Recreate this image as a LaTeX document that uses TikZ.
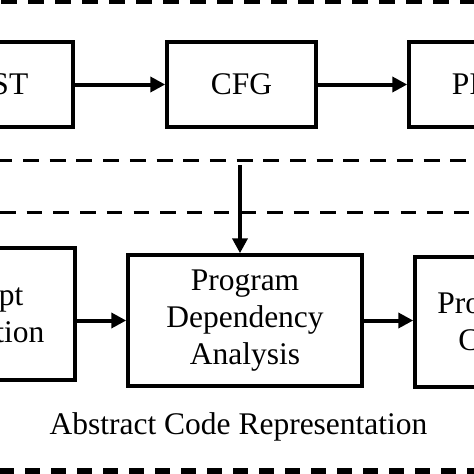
\documentclass[tikz,border=0pt]{standalone}
\usepackage{fontspec}
\setmainfont{Liberation Serif}
\usetikzlibrary{arrows.meta}
\begin{document}
\begin{tikzpicture}[x=1pt,y=-1pt,
  box/.style={draw=black, line width=3.5pt, rectangle, inner sep=0pt, align=center,
    font=\fontsize{31.5}{37}\selectfont},
  conn/.style={line width=4pt, -{Triangle[length=15pt,width=15pt]}},
  thindash/.style={line width=3pt},
  thickdash/.style={line width=6pt},
  lbl/.style={font=\fontsize{31.5}{37}\selectfont, inner sep=0pt}
]
\useasboundingbox (0,0) rectangle (474,474);
\clip (0,0) rectangle (474,474);

% dashed separators
\draw[thickdash, dash pattern=on 16pt off 11pt] (1,1) -- (480,1);
\draw[thindash, dash pattern=on 16pt off 10.7pt] (-3.7,160.7) -- (480,160.7);
\draw[thindash, dash pattern=on 15.5pt off 11.2pt] (0,212.3) -- (480,212.3);
\draw[thickdash, dash pattern=on 15pt off 11pt] (-1,471) -- (480,471);

% top row
\node[box, minimum width=149pt, minimum height=85pt] (ast) at (-1.5,84.5) {AST};
\node[box, minimum width=149pt, minimum height=85pt] (cfg) at (241.5,84.5) {CFG};
\node[box, minimum width=149pt, minimum height=85pt] (pdg) at (483.5,84.5) {PDG};
\draw[conn] (ast.east) -- (cfg.west);
\draw[conn] (cfg.east) -- (pdg.west);

% bottom row
\node[box, minimum width=208pt, minimum height=132pt] (cpt) at (-29,314) {Concept\\Abstraction};
\node[box, minimum width=234pt, minimum height=131pt] (pda) at (245,320.5) {Program\\Dependency\\Analysis};
\node[box, minimum width=153pt, minimum height=130pt] (prc) at (491.5,322) {Program\\Code};

\coordinate (src) at (240,165);
\draw[conn] (src) -- (src |- pda.north);
\draw[conn] (pda.west -| cpt.east) -- (pda.west);
\draw[conn] (pda.east) -- (pda.east -| prc.west);

\node[lbl, anchor=base] (title) at (238.5,434) {Abstract Code Representation};
\end{tikzpicture}
\end{document}
